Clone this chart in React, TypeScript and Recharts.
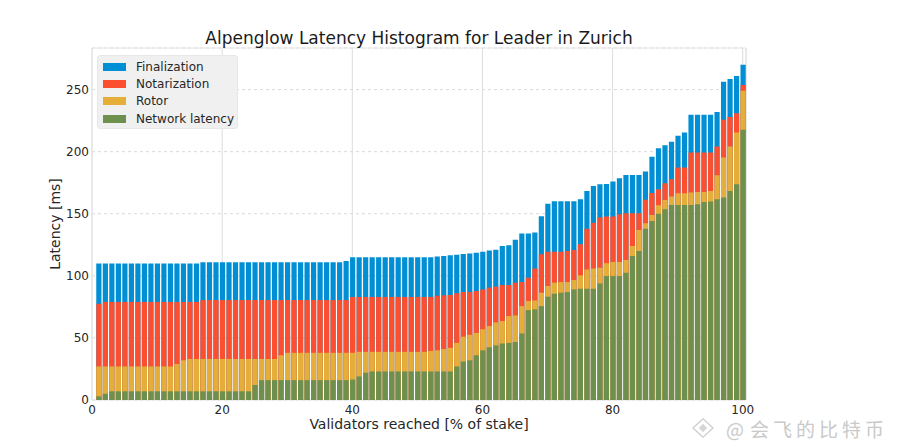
import { BarChart, Bar, XAxis, YAxis, CartesianGrid, Legend, ReferenceArea, Label } from 'recharts'

// cumulative latency (ms) reached at each stage, one bar per % of stake
const finalization = [
  110, 110, 110, 110, 110, 110, 110, 110, 110, 110,
  110, 110, 110, 110, 110, 110, 111, 111, 111, 111,
  111, 111, 111, 111, 111, 111, 111, 111, 111, 111,
  111, 111, 111, 111, 111, 111, 111, 111, 112, 115,
  115, 115, 115, 115, 115, 115, 115, 115, 115, 115,
  115, 115, 115.5, 116, 116.5, 117, 117.5, 118, 118.6, 119.4,
  120.5, 121, 124, 124.6, 129, 134, 134, 135, 148, 158,
  160, 160, 160, 160, 161.7, 168.4, 172.4, 173.8, 174, 176,
  178.6, 181.3, 181.3, 181.3, 184, 196, 202.8, 205.2, 208, 212.8,
  215.5, 229.7, 229.7, 229.7, 229.7, 232, 256.3, 258.5, 261, 270,
]

const notarization = [
  77.5, 79, 79, 79, 79, 79, 79, 79, 79, 79,
  79, 79, 79, 79, 79, 79, 80.5, 80.5, 80.5, 80.5,
  80.5, 80.5, 80.5, 80.5, 80.5, 80.5, 80.5, 80.5, 80.5, 80.5,
  80.5, 80.5, 80.5, 80.5, 80.5, 80.5, 80.5, 80.5, 80.5, 83,
  83, 83, 83, 83, 83, 83, 83, 83, 83, 83,
  83, 83, 84, 84.3, 84.6, 86, 87, 87, 87.8, 89,
  90.5, 91.3, 92.6, 92.6, 94.5, 95, 98.5, 106, 117.4, 119.5,
  119.5, 119.5, 120, 120.8, 125.4, 138, 142.8, 147, 147.7, 147.7,
  149.6, 150.4, 150.4, 150.4, 161.2, 166.8, 169.8, 174.6, 177.8, 187.3,
  187.3, 199.3, 199.3, 199.3, 199.3, 204.2, 225.7, 228, 231, 253.6,
]

const rotor = [
  27, 27, 27, 27, 27, 27, 27, 27, 27, 27,
  27, 27, 29, 32, 33, 33, 33, 33, 33, 33,
  33, 33, 33, 33, 33, 33, 33, 33, 36, 38,
  38, 38, 38, 38, 38, 38, 38, 38, 38, 38,
  38.8, 38.8, 38.8, 38.8, 38.8, 38.8, 38.8, 38.8, 38.8, 38.8,
  38.8, 39.5, 40, 41, 42, 46, 51, 52.5, 54, 57,
  59.5, 62.5, 63.6, 67.6, 68.1, 75.6, 79.7, 80.2, 86.4, 91.8,
  94.5, 95, 95, 96.6, 100.4, 105.2, 106, 106.6, 110.1, 111.2,
  111.2, 112.8, 124.1, 137, 142.4, 149, 156.9, 161.1, 163.8, 166.5,
  166.5, 167.1, 167.6, 167.6, 168.4, 181, 195.3, 204.2, 215.5, 249,
]

const networkLatency = [
  3, 5, 7, 7, 7, 7, 7, 7, 7, 7,
  7, 7, 7, 7, 7, 7, 7, 7, 7, 7,
  7, 7, 7, 7, 12, 16, 16, 16, 16, 16,
  16, 16, 16, 16, 16, 16, 16, 16, 16, 16.5,
  19, 22, 23, 23, 23, 23, 23, 23, 23, 23,
  23, 23, 23, 23, 23, 27, 31, 32, 36, 40,
  42.5, 44, 45.5, 46, 46.7, 53.6, 72.4, 73, 75.6, 83.2,
  85.6, 86.4, 86.9, 89.1, 89.6, 89.6, 89.6, 93.9, 99.8, 99.8,
  99.8, 102.5, 115.9, 120, 138, 144.2, 150.1, 153.6, 157.1, 157.1,
  157.1, 157.1, 157.6, 159.5, 159.8, 161.7, 163, 168.4, 173.8, 217.6,
]

const legendOrder = ['Finalization', 'Notarization', 'Rotor', 'Network latency']
const xTicks = [0, 20, 40, 60, 80, 100]
const yTicks = [0, 50, 100, 150, 200, 250]

const FONT = '"DejaVu Sans", sans-serif'
const TEXT = '#262626'

const rows = finalization.map((f, i) => ({
  stake: i + 1,
  finalization: f,
  notarization: notarization[i],
  rotor: rotor[i],
  network: networkLatency[i],
}))

function LegendBox({ payload }: any) {
  const items = [...(payload || [])].sort(
    (a: any, b: any) => legendOrder.indexOf(a.value) - legendOrder.indexOf(b.value),
  )
  return (
    <div
      style={{
        background: '#f0f0f0',
        border: '1px solid #e8e8e8',
        borderRadius: 3,
        padding: '2px 0 0 5px',
        boxSizing: 'border-box',
        width: 141,
        height: 74,
        fontFamily: FONT,
        fontSize: 12,
        color: TEXT,
      }}
    >
      {items.map((p: any) => (
        <div key={p.value} style={{ display: 'flex', alignItems: 'center', height: 17.4 }}>
          <span style={{ width: 23, height: 8, background: p.color, marginRight: 10, flex: 'none' }} />
          <span>{p.value}</span>
        </div>
      ))}
    </div>
  )
}

export default function App() {
  return (
    <div style={{ position: 'relative', width: 901, height: 448, background: '#fff' }}>
      <style>{'body{margin:0}'}</style>
      <div
        style={{
          position: 'absolute',
          left: 92,
          width: 654,
          top: 30,
          textAlign: 'center',
          fontFamily: FONT,
          fontSize: 17,
          lineHeight: '17px',
          color: '#1a1a1a',
          zIndex: 2,
        }}
      >
        Alpenglow Latency Histogram for Leader in Zurich
      </div>
      <BarChart
        width={901}
        height={448}
        data={rows}
        margin={{ top: 48, right: 155, bottom: 0, left: 0 }}
        barSize={5.2}
        barGap={-5.2}
      >
        <CartesianGrid vertical={false} strokeDasharray="3 3" stroke="#d9d9d9" />
        <CartesianGrid horizontal={false} stroke="#dcdcdc" />
        <ReferenceArea x1={0} x2={100.5} y1={0} y2={283.5} fill="none" stroke="#e4e4e4" />
        <XAxis
          dataKey="stake"
          type="number"
          domain={[0, 100.5]}
          allowDataOverflow
          ticks={xTicks}
          height={48}
          axisLine={false}
          tickLine={false}
          tickSize={3}
          tickMargin={2}
          tick={{ fill: TEXT, fontSize: 12, fontFamily: FONT }}
        >
          <Label
            content={() => (
              <text x={419} y={428.5} textAnchor="middle" fill={TEXT} fontSize={14} fontFamily={FONT}>
                Validators reached [% of stake]
              </text>
            )}
          />
        </XAxis>
        <YAxis
          type="number"
          domain={[0, 283.5]}
          allowDataOverflow
          ticks={yTicks}
          width={92}
          axisLine={false}
          tickLine={false}
          tickSize={1}
          tickMargin={2}
          tick={{ fill: TEXT, fontSize: 12, fontFamily: FONT }}
        >
          <Label
            content={() => (
              <text
                x={60}
                y={224}
                transform="rotate(-90 60 224)"
                textAnchor="middle"
                fill={TEXT}
                fontSize={14}
                fontFamily={FONT}
              >
                Latency [ms]
              </text>
            )}
          />
        </YAxis>
        <Legend
          layout="vertical"
          align="center"
          verticalAlign="middle"
          content={<LegendBox />}
          wrapperStyle={{ left: 97, top: 55, width: 141, height: 74 }}
        />
        <Bar dataKey="finalization" name="Finalization" fill="#008fd5" isAnimationActive={false} />
        <Bar dataKey="notarization" name="Notarization" fill="#fc4f30" isAnimationActive={false} />
        <Bar dataKey="rotor" name="Rotor" fill="#e5ae38" isAnimationActive={false} />
        <Bar dataKey="network" name="Network latency" fill="#6d904f" isAnimationActive={false} />
      </BarChart>
      <div
        style={{
          position: 'absolute',
          left: 690,
          top: 418,
          display: 'flex',
          alignItems: 'center',
          color: '#c9c9c9',
          fontFamily: '"Noto Sans CJK SC", sans-serif',
          fontSize: 19,
          lineHeight: '19px',
          whiteSpace: 'nowrap',
        }}
      >
        <svg width={26} height={20} viewBox="0 0 26 24" style={{ marginRight: 10 }}>
          <path d="M13 1 L25 12 L13 23 L1 12 Z" fill="none" stroke="#cfcfcf" strokeWidth={1.6} />
          <path d="M13 7 L18 12 L13 17 L8 12 Z" fill="#d6d6d6" />
        </svg>
        <span style={{ marginRight: 6 }}>@</span>
        <span style={{ letterSpacing: 4 }}>会飞的比特币</span>
      </div>
    </div>
  )
}
